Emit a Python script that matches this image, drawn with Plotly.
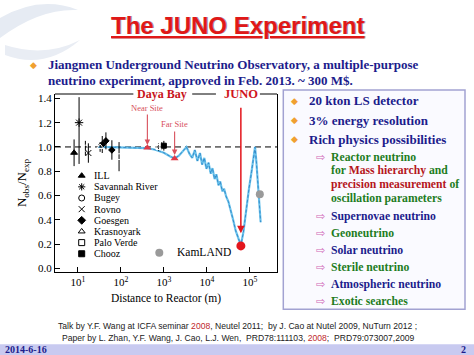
import plotly.graph_objects as go
import math

# ---------------- data ----------------
ill_L = [8.2];            ill_R = [0.952];   ill_err = [0.11]
sav_L = [10.7];           sav_R = [1.20];    sav_err_up = [0.21]; sav_err_dn = [0.34]
bugey_L = [15.0, 91.0];   bugey_R = [0.99, 0.92];  bugey_err = [0.06, 0.12]
rovno_L = [17.6];         rovno_R = [0.95];  rovno_err = [0.08]
goesgen_L = [37.0, 45.0, 62.0]; goesgen_R = [1.02, 1.05, 0.975]; goesgen_err = [0.07, 0.07, 0.08]
kras_L = [33.0];          kras_R = [1.00];   kras_err = [0.04]
palo_L = [750.0, 890.0];  palo_R = [1.00, 1.01]; palo_err = [0.03, 0.03]
chooz_L = [1000.0];       chooz_R = [1.01];  chooz_err = [0.04]
dyb_L = [414.0, 1780.0];  dyb_R = [0.993, 0.905]
juno_L = [61660.0];       juno_R = [0.185]
kamland_L = [170000.0];   kamland_R = [0.61]

# oscillation curve
curve_L = [30, 100, 250, 414, 630, 1000, 1410, 1780, 2240, 2820, 3360,
           3980, 4570, 5250, 6030, 6920, 7760, 8710, 9770, 10960, 12300,
           13490, 15140, 16600, 18620, 20420, 22910, 25120, 28180, 31620,
           35480, 40740, 46770, 53700, 61660, 70790, 83180, 95500, 109600,
           123000, 131800, 141300, 154900, 166000, 177800]
curve_P = [1.0, 0.998, 0.994, 0.99, 0.977, 0.952, 0.922, 0.905, 0.928, 0.965, 1.0,
           0.94, 0.91, 0.975, 0.885, 0.95, 0.855, 0.91, 0.82, 0.87, 0.78,
           0.825, 0.735, 0.775, 0.685, 0.715, 0.635, 0.655, 0.59, 0.55,
           0.49, 0.40, 0.31, 0.24, 0.19, 0.30, 0.51, 0.66, 0.80,
           0.93, 1.0, 0.88, 0.68, 0.55, 0.38]

x_tick_vals = [10, 100, 1000, 10000, 100000]
x_tick_text = ["10<sup>1</sup>", "10<sup>2</sup>", "10<sup>3</sup>", "10<sup>4</sup>", "10<sup>5</sup>"]
y_tick_vals = [0.0, 0.2, 0.4, 0.6, 0.8, 1.0, 1.2, 1.4]

legend_names = ["ILL", "Savannah River", "Bugey", "Rovno", "Goesgen",
                "Krasnoyark", "Palo Verde", "Chooz"]
legend_symbols = ["triangle-up", "asterisk-open", "circle-open", "x-thin-open",
                  "diamond", "triangle-up-open", "square-open", "square"]

# ---------------- layout geometry ----------------
FW, FH = 474, 355
ML, MR, MT, MB = 55, 197, 94, 83
PW, PH = FW - ML - MR, FH - MT - MB


def px(x):
    return (x - ML) / PW


def py(y):
    return (FH - MB - y) / PH


SERIF = "Liberation Serif"
SANS = "Liberation Sans"
NAVY = "#1c1c8c"
GREEN = "#1e7d1e"
DRED = "#b5161c"
PINK = "#d8505c"
JRED = "#e3161d"

fig = go.Figure()


def err_trace(L, R, err, symbol, size=6, err_minus=None, fill="black"):
    ey = dict(type="data", array=err, visible=True, color="black", thickness=1, width=0)
    if err_minus is not None:
        ey["symmetric"] = False
        ey["arrayminus"] = err_minus
    fig.add_trace(go.Scatter(
        x=L, y=R, mode="markers", error_y=ey,
        marker=dict(symbol=symbol, size=size, color=fill,
                    line=dict(color="black", width=1)),
        showlegend=False, hoverinfo="skip"))


# curve: light band + dark dashed core
fig.add_trace(go.Scatter(x=curve_L, y=curve_P, mode="lines",
                         line=dict(color="#6cc3ec", width=2.2),
                         showlegend=False, hoverinfo="skip"))
fig.add_trace(go.Scatter(x=curve_L, y=curve_P, mode="lines",
                         line=dict(color="#2f86c6", width=0.9, dash="3px,2px"),
                         showlegend=False, hoverinfo="skip"))

err_trace(ill_L, ill_R, ill_err, "triangle-up", 6)
err_trace(sav_L, sav_R, sav_err_up, "asterisk-open", 7, err_minus=sav_err_dn)
err_trace(bugey_L, bugey_R, bugey_err, "circle-open", 6, fill="white")
err_trace(rovno_L, rovno_R, rovno_err, "x-thin-open", 6)
err_trace(goesgen_L, goesgen_R, goesgen_err, "diamond", 5)
err_trace(kras_L, kras_R, kras_err, "triangle-up-open", 6, fill="white")
err_trace(palo_L, palo_R, palo_err, "square-open", 5, fill="white")
err_trace(chooz_L, chooz_R, chooz_err, "square", 5)

fig.add_trace(go.Scatter(x=dyb_L, y=dyb_R, mode="markers",
                         marker=dict(symbol="triangle-up", size=7, color="#e03a48"),
                         showlegend=False, hoverinfo="skip"))
fig.add_trace(go.Scatter(x=kamland_L, y=kamland_R, mode="markers",
                         marker=dict(symbol="circle", size=8, color="#9a9a9a"),
                         showlegend=False, hoverinfo="skip"))
fig.add_trace(go.Scatter(x=juno_L, y=juno_R, mode="markers",
                         marker=dict(symbol="circle", size=9, color=JRED),
                         showlegend=False, hoverinfo="skip"))

# manual legend on an overlay axis (0..1 of plot area)
leg_x0, leg_y0, leg_dy = px(81.7), py(175.7), 11.15 / PH
leg_y = [leg_y0 - i * leg_dy for i in range(len(legend_names))]
fig.add_trace(go.Scatter(
    x=[leg_x0] * len(legend_names), y=leg_y, mode="markers", xaxis="x2", yaxis="y2",
    marker=dict(symbol=legend_symbols, size=6, color="black",
                line=dict(color="black", width=1)),
    showlegend=False, hoverinfo="skip"))
fig.add_trace(go.Scatter(
    x=[px(159.3)], y=[py(252.7)], mode="markers", xaxis="x2", yaxis="y2",
    marker=dict(symbol="circle", size=8, color="#9a9a9a"),
    showlegend=False, hoverinfo="skip"))


def txt(x, y, text, font, xanchor="center", yanchor="middle", **kw):
    d = dict(x=px(x), y=py(y), xref="paper", yref="paper", text=text, showarrow=False,
             xanchor=xanchor, yanchor=yanchor, font=font)
    d.update(kw)
    return d


ann = []
for name, yy in zip(legend_names, leg_y):
    ann.append(dict(x=px(92), y=yy, xref="paper", yref="paper", text=name,
                    showarrow=False, xanchor="left", yanchor="middle",
                    font=dict(family=SERIF, size=10, color="black")))
ann.append(txt(175, 252, "KamLAND", dict(family=SERIF, size=11.5, color="black"), xanchor="left"))

# arrows + labels in the plot
lg = math.log10
ann += [
    dict(x=lg(dyb_L[0]), y=1.016, xref="x", yref="y", ax=0, ay=-32, text="",
         showarrow=True, arrowhead=2, arrowsize=1, arrowwidth=1.1, arrowcolor=PINK),
    dict(x=lg(dyb_L[0]), y=1.318, xref="x", yref="y", text="Near Site", showarrow=False,
         xanchor="center", yanchor="middle", font=dict(family=SERIF, size=8.5, color=PINK)),
    dict(x=lg(dyb_L[1]), y=0.933, xref="x", yref="y", ax=0, ay=-25, text="",
         showarrow=True, arrowhead=2, arrowsize=1, arrowwidth=1.1, arrowcolor=PINK),
    dict(x=lg(dyb_L[1]), y=1.186, xref="x", yref="y", text="Far Site", showarrow=False,
         xanchor="center", yanchor="middle", font=dict(family=SERIF, size=8.5, color=PINK)),
    dict(x=lg(juno_L[0]), y=0.29, xref="x", yref="y", ax=0, ay=-127, text="",
         showarrow=True, arrowhead=2, arrowsize=1, arrowwidth=1.5, arrowcolor=JRED),
    dict(x=lg(juno_L[0]), y=1, xref="x", yref="y domain", text="<b>JUNO</b>", showarrow=False,
         xanchor="center", yanchor="middle", font=dict(family=SERIF, size=12.5, color="#d0141c")),
    dict(x=2.95, y=1, xref="x", yref="y domain", text="<b>Daya Bay</b>", showarrow=False,
         xanchor="center", yanchor="middle", font=dict(family=SERIF, size=12, color="#c8141c")),
]

# slide texts
ann.append(txt(238, 26, "<b><u>The JUNO Experiment</u></b>", dict(family=SANS, size=24, color="#9a9aa8")))
ann.append(txt(237, 25, "<b><u>The JUNO Experiment</u></b>", dict(family=SANS, size=24, color="#e01818")))
ann.append(txt(33, 65, "◆", dict(family="DejaVu Sans", size=9, color="#f0a030")))
ann.append(txt(46, 65, "<b>Jiangmen Underground Neutrino Observatory, a multiple-purpose</b>",
               dict(family=SERIF, size=13, color=NAVY), xanchor="left"))
ann.append(txt(46, 80.7, "<b>neutrino experiment, approved in Feb. 2013. ~ 300 M$.</b>",
               dict(family=SERIF, size=13, color=NAVY), xanchor="left"))

main_items = [("20 kton LS detector", 100.7), ("3% energy resolution", 120.0),
              ("Rich physics possibilities", 139.3)]
for t, yy in main_items:
    ann.append(txt(294, yy, "◆", dict(family="DejaVu Sans", size=9, color="#f0a030")))
    ann.append(txt(307, yy, "<b>%s</b>" % t, dict(family=SERIF, size=13, color=NAVY), xanchor="left"))

G = '<span style="color:%s">' % GREEN
R = '<span style="color:%s">' % DRED
sub_items = [
    (True, G + "Reactor neutrino</span>", 157.3),
    (False, G + "for </span>" + R + "Mass hierarchy</span>" + G + " and</span>", 170.9),
    (False, R + "precision measurement</span>" + G + " of</span>", 184.8),
    (False, G + "oscillation parameters</span>", 198.8),
    (True, '<span style="color:%s">Supernovae neutrino</span>' % NAVY, 216.7),
    (True, G + "Geoneutrino</span>", 233.3),
    (True, '<span style="color:%s">Solar neutrino</span>' % NAVY, 250.7),
    (True, G + "Sterile neutrino</span>", 267.3),
    (True, '<span style="color:%s">Atmospheric neutrino</span>' % NAVY, 284.3),
    (True, G + "Exotic searches</span>", 301.0),
]
for arrow, t, yy in sub_items:
    if arrow:
        ann.append(txt(320, yy, "⇨", dict(family="DejaVu Sans", size=11, color="#d065b5")))
    ann.append(txt(329, yy, "<b>%s</b>" % t, dict(family=SERIF, size=11.7, color=GREEN), xanchor="left"))

FR = '<span style="color:#c0282c">2008</span>'
ann.append(txt(237.5, 326, "Talk by Y.F. Wang at ICFA seminar " + FR +
               ", Neutel 2011;  by J. Cao at Nutel 2009, NuTurn 2012 ;",
               dict(family=SANS, size=8.6, color="#222222")))
ann.append(txt(237.5, 338.3, "Paper by L. Zhan, Y.F. Wang, J. Cao, L.J. Wen,  PRD78:111103, " + FR +
               ";  PRD79:073007,2009", dict(family=SANS, size=8.6, color="#222222")))
ann.append(txt(3, 349.5, "<b>2014-6-16</b>", dict(family=SERIF, size=10, color=NAVY), xanchor="left"))
ann.append(txt(468, 349.5, "<b>2</b>", dict(family=SERIF, size=10, color=NAVY), xanchor="right"))

shapes = [
    # faint logo watermark (top-left)
    dict(type="path", xref="paper", yref="paper", layer="below",
         path="M %f,%f Q %f,%f %f,%f Q %f,%f %f,%f Z" % (
             px(0), py(18), px(40), py(-5), px(78), py(10),
             px(40), py(8), px(0), py(38)),
         fillcolor="#e6ebf3", line=dict(width=0)),
    dict(type="path", xref="paper", yref="paper", layer="below",
         path="M %f,%f Q %f,%f %f,%f Q %f,%f %f,%f Z" % (
             px(5), py(55), px(45), py(70), px(80), py(40),
             px(45), py(58), px(5), py(45)),
         fillcolor="#e9edf4", line=dict(width=0)),
    # y = 1 dashed reference
    dict(type="line", xref="x domain", yref="y", x0=0, x1=1, y0=1, y1=1,
         line=dict(color="black", width=1, dash="6px,4px"), layer="below"),
    # top frame segments
    dict(type="line", xref="x domain", yref="y domain", x0=0, x1=0.353, y0=1, y1=1,
         line=dict(color="black", width=1)),
    dict(type="line", xref="x domain", yref="y domain", x0=0.618, x1=0.725, y0=1, y1=1,
         line=dict(color="black", width=1)),
    dict(type="line", xref="x domain", yref="y domain", x0=0.923, x1=1.0, y0=1, y1=1,
         line=dict(color="black", width=1)),
    # right info box
    dict(type="rect", xref="paper", yref="paper", x0=px(283.3), x1=px(465), y0=py(309.3), y1=py(90),
         line=dict(color="#a2a2d2", width=1.5), fillcolor="#fafaff", layer="below"),
    # bottom bar
    dict(type="rect", xref="paper", yref="paper", x0=px(0), x1=px(474), y0=py(355), y1=py(344.3),
         line=dict(width=0), fillcolor="#c8caf0", layer="below"),
]

fig.update_layout(
    width=FW, height=FH,
    margin=dict(l=ML, r=MR, t=MT, b=MB, pad=0),
    paper_bgcolor="white", plot_bgcolor="rgba(0,0,0,0)",
    showlegend=False,
    xaxis=dict(type="log", range=[0.47, 5.63], showline=True, linecolor="black", linewidth=1,
               mirror=False, ticks="inside", ticklen=5, tickcolor="black",
               tickvals=x_tick_vals, ticktext=x_tick_text, showgrid=False, zeroline=False,
               tickfont=dict(family=SERIF, size=11, color="black"),
               title=dict(text="Distance to Reactor (m)", standoff=6,
                          font=dict(family=SERIF, size=11.5, color="black"))),
    yaxis=dict(range=[-0.03, 1.436], showline=True, linecolor="black", linewidth=1,
               mirror=True, ticks="inside", ticklen=5, tickcolor="black",
               tickvals=y_tick_vals, tickformat=".1f", showgrid=False, zeroline=False,
               tickfont=dict(family=SERIF, size=11, color="black"),
               title=dict(text="N<sub>obs</sub>/N<sub>exp</sub>", standoff=8,
                          font=dict(family=SERIF, size=13, color="black"))),
    xaxis2=dict(range=[0, 1], overlaying="x", visible=False),
    yaxis2=dict(range=[0, 1], overlaying="y", visible=False),
    annotations=ann, shapes=shapes,
)

fig.write_html("out.html", config={"displayModeBar": False},
               post_script="document.body.style.margin='0';")
